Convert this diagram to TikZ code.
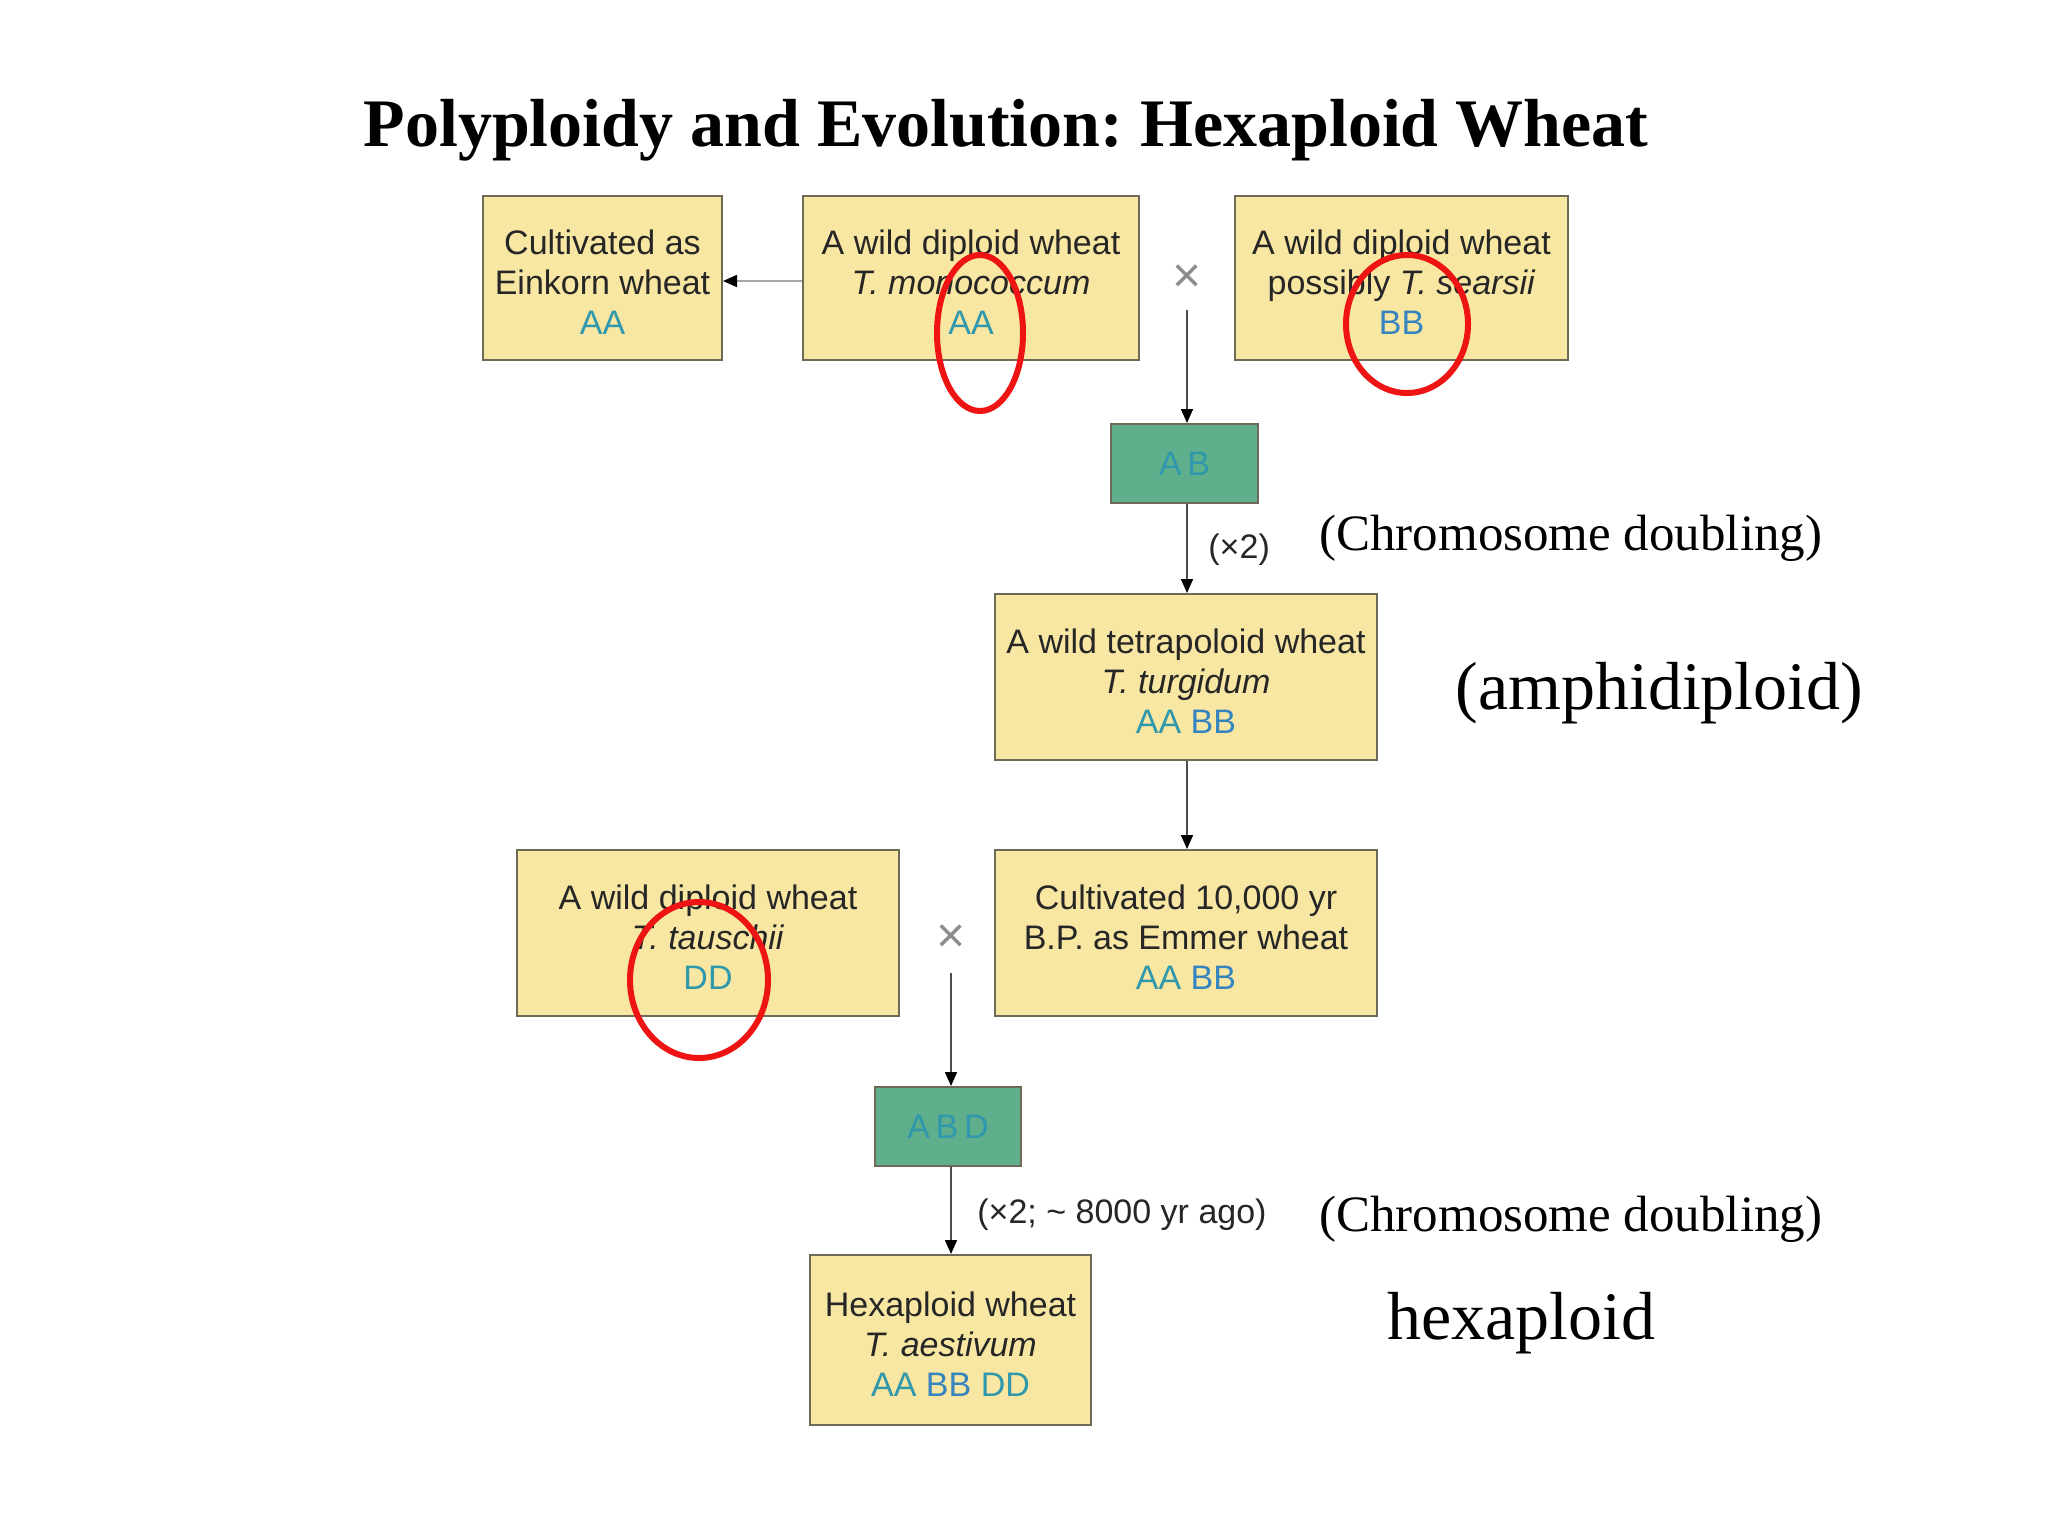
\documentclass[tikz,border=0pt]{standalone}
\usepackage{fontspec}
\setmainfont{Liberation Serif}
\newfontfamily\boxfont{Liberation Sans}
\usetikzlibrary{arrows.meta}
\frenchspacing
\definecolor{boxyellow}{HTML}{F8E7A2}
\definecolor{boxedge}{HTML}{6E6A55}
\definecolor{hybgreen}{HTML}{5FAE8C}
\definecolor{genA}{HTML}{2F98AC}
\definecolor{genB}{HTML}{3584C0}
\definecolor{circred}{HTML}{EE1414}
\newcommand\gA[1]{\textcolor{genA}{#1}}
\newcommand\gB[1]{\textcolor{genB}{#1}}
\newcommand\topstrut{\rule{0pt}{16.6pt}}
\begin{document}
\begin{tikzpicture}[x=0.5pt,y=-0.5pt,
  plant/.style={draw=boxedge, line width=1pt, fill=boxyellow, inner sep=0pt, align=center,
    font=\boxfont\fontsize{17}{20}\selectfont, text=black!85},
  hybrid/.style={draw=boxedge, line width=1pt, fill=hybgreen, inner sep=0pt, align=center,
    font=\boxfont\fontsize{17}{20}\selectfont, text=genA},
  flow/.style={draw=black!70, line width=0.8pt, -{Triangle[length=7pt,width=6pt,color=black]}},
  cross/.style={text=black!45, font=\boxfont\fontsize{25}{28}\selectfont, inner sep=0pt},
  lbl/.style={font=\boxfont\fontsize{17}{20}\selectfont, text=black!85, anchor=west, inner sep=0pt},
  note/.style={font=\fontsize{25.5}{30}\selectfont, anchor=west, inner sep=0pt},
  big/.style={font=\fontsize{34}{40}\selectfont, anchor=west, inner sep=0pt},
  ring/.style={draw=circred, line width=3pt}
]
\useasboundingbox[fill=white] (0,0) rectangle (2048,1536);

\node[font=\bfseries\fontsize{34}{40}\selectfont, inner sep=0pt] (title) at (1006,130) {Polyploidy and Evolution: Hexaploid Wheat};

% top row
\node[plant, minimum width=119.5pt, minimum height=82pt] (ein) at (602.5,278)
  {\topstrut Cultivated as\\Einkorn wheat\\\gA{AA}};
\node[plant, minimum width=168pt, minimum height=82pt] (mono) at (971,278)
  {\topstrut A wild diploid wheat\\\textit{T. monococcum}\\\gA{AA}};
\node[plant, minimum width=166.5pt, minimum height=82pt] (sear) at (1401.5,278)
  {\topstrut A wild diploid wheat\\possibly \textit{T. searsii}\\\gB{BB}};
\node[cross] (x1) at (1187,279) {×};
\coordinate (x1s) at (1187,310);

\node[hybrid, minimum width=73.5pt, minimum height=39.5pt] (ab) at (1184.5,463.5) {A\,B};

\node[plant, minimum width=191pt, minimum height=83pt] (tetra) at (1186,677)
  {\topstrut A wild tetrapoloid wheat\\\textit{T. turgidum}\\\gA{AA} \gB{BB}};
\node[plant, minimum width=191pt, minimum height=83pt] (emmer) at (1186,933)
  {\topstrut Cultivated 10,000 yr\\B.P. as Emmer wheat\\\gA{AA} \gB{BB}};
\node[plant, minimum width=191pt, minimum height=83pt] (taus) at (708,933)
  {\topstrut A wild diploid wheat\\\textit{T. tauschii}\\\gA{DD}};
\node[cross] (x2) at (951,939) {×};
\coordinate (x2s) at (951,973);

\node[hybrid, minimum width=73pt, minimum height=39.5pt] (abd) at (948,1126.5) {A\,B\,D};

\node[plant, minimum width=140.5pt, minimum height=85pt] (hexa) at (950.5,1340)
  {\topstrut Hexaploid wheat\\\textit{T. aestivum}\\\gA{AA} \gB{BB} \gA{DD}};

% connectors
\draw[flow, draw=black!35] (mono.west |- 0,281) -- (ein.east |- 0,281);
\draw[flow] (x1s) -- (ab.north -| x1s);
\draw[flow] (ab.south -| x1s) -- (tetra.north -| x1s);
\draw[flow] (tetra.south -| x1s) -- (emmer.north -| x1s);
\draw[flow] (x2s) -- (abd.north -| x2s);
\draw[flow] (abd.south -| x2s) -- (hexa.north -| x2s);

% labels
\node[lbl] (d1) at (1208,550) {(×2)};
\node[lbl] (d2) at (977,1215) {(×2; \textasciitilde\ 8000 yr ago)};
\node[note] (c1) at (1319,538) {(Chromosome doubling)};
\node[note] (c2) at (1319,1219) {(Chromosome doubling)};
\node[big] (amph) at (1455,693) {(amphidiploid)};
\node[big] (hexl) at (1387,1323) {hexaploid};

% red highlight rings
\draw[ring] (980,333) ellipse [x radius=43, y radius=78];
\draw[ring] (1407,324) ellipse [x radius=61, y radius=69];
\draw[ring] (699,980) ellipse [x radius=69, y radius=78];
\end{tikzpicture}
\end{document}
